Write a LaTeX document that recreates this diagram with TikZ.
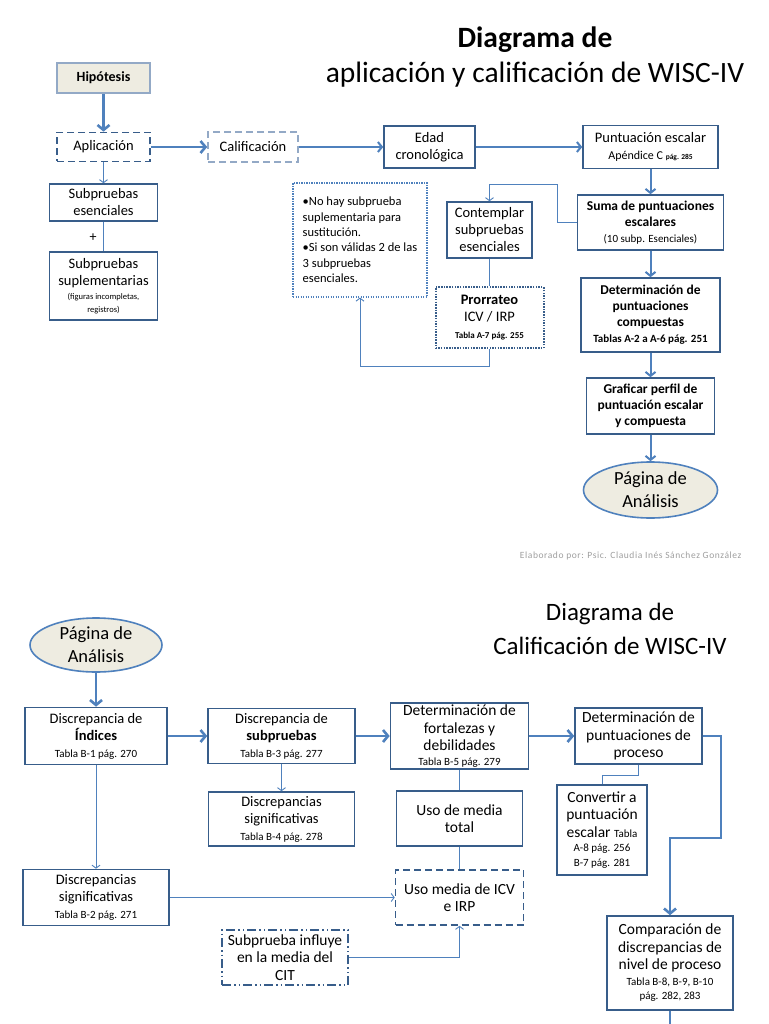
\documentclass[tikz,border=0pt]{standalone}
\usepackage{fontspec}
\setmainfont{Carlito}
\usetikzlibrary{arrows.meta,shapes.geometric}
\definecolor{boxblue}{HTML}{385D8A}
\definecolor{linkblue}{HTML}{4F81BD}
\definecolor{paleblue}{HTML}{93A9C6}
\definecolor{beige}{HTML}{EEECE1}
\newcommand{\tabsize}{\fontsize{11}{13}\selectfont}
\newcommand{\tinysize}{\fontsize{8.5}{10}\selectfont}

\begin{document}
\begin{tikzpicture}[x=1pt,y=-1pt,
  box/.style={draw=boxblue,line width=1.6pt,fill=white,align=center,inner sep=1pt,font=\fontsize{14.5}{17}\selectfont},
  bigbox/.style={box,font=\fontsize{15.5}{17.5}\selectfont},
  boldbox/.style={box,font=\bfseries\fontsize{13.5}{16}\selectfont},
  dashbox/.style={box,dash pattern=on 7pt off 4pt},
  dotbox/.style={box,draw=linkblue,line width=1.2pt,dash pattern=on 1.2pt off 1.3pt},
  oval/.style={ellipse,draw=linkblue,line width=1.6pt,fill=beige,align=center,inner sep=0pt,font=\fontsize{18.5}{23}\selectfont},
  bigflow/.style={draw=linkblue,line width=2.6pt,-{Straight Barb[length=5pt,width=12pt]}},
  flow/.style={draw=linkblue,line width=2pt,-{Straight Barb[length=4pt,width=10pt]}},
  thinflow/.style={draw=linkblue,line width=0.9pt,-{Straight Barb[length=3pt,width=8pt]}},
  link/.style={draw=linkblue,line width=0.9pt}]
\fill[white] (0,0) rectangle (768,1024);
\useasboundingbox (0,0) rectangle (768,1024);

% Titles
\node[font=\bfseries\fontsize{29.5}{34}\selectfont] (title1) at (535,40) {Diagrama de};
\node[font=\fontsize{29.5}{34}\selectfont] (title1b) at (535,75) {aplicación y calificación de WISC-IV};
\node[font=\fontsize{25}{30}\selectfont] (title2) at (610,614) {Diagrama de};
\node[font=\fontsize{25}{30}\selectfont] (title2b) at (610,646) {Calificación de WISC-IV};

% Application column
\node[box,fill=beige,draw=paleblue,line width=2.2pt,font=\bfseries\fontsize{14}{16}\selectfont,minimum width=93pt,minimum height=30pt] (hip) at (103.5,78) {Hipótesis};
\node[dashbox,minimum width=93pt,minimum height=29pt] (apl) at (103.5,147) {Aplicación};
\node[box,minimum width=108pt,minimum height=37pt] (esen) at (103.5,202.5) {Subpruebas\\esenciales};
\node[font=\fontsize{14}{16}\selectfont] (plus) at (93,238) {+};
\node[box,minimum width=108pt,minimum height=68pt] (supl) at (103.5,286) {Subpruebas\\suplementarias\\[-3pt]{\tinysize(figuras incompletas,}\\[-4pt]{\tinysize registros)}};

% Scoring row
\node[dashbox,draw=paleblue,minimum width=90pt,minimum height=30pt] (cal) at (253,147) {Calificación};
\node[box,minimum width=91pt,minimum height=42pt] (edad) at (429.5,147) {Edad\\cronológica};
\node[box,minimum width=135pt,minimum height=43pt] (pesc) at (650.5,147) {Puntuación escalar\\{\fontsize{12}{14}\selectfont Apéndice C \fontsize{7.5}{8}\selectfont\bfseries pág. 285}};

% Scoring column
\node[boldbox,minimum width=146pt,minimum height=55pt] (suma) at (650.5,222.5) {Suma de puntuaciones\\escalares\\{\mdseries\fontsize{11}{13}\selectfont(10 subp. Esenciales)}};
\node[boldbox,minimum width=139pt,minimum height=74pt] (comp) at (650.5,315) {Determinación de\\puntuaciones\\compuestas\\{\fontsize{11}{13}\selectfont Tablas A-2 a A-6 pág. 251}};
\node[boldbox,minimum width=128pt,minimum height=56pt] (graf) at (650.5,406) {Graficar perfil  de\\puntuación escalar\\y compuesta};
\node[oval,minimum width=134pt,minimum height=56pt] (pag1) at (650.5,490) {Página de\\Análisis};
\node[anchor=east,text=gray!75,font=\fontsize{9.5}{11}\selectfont\addfontfeature{LetterSpace=6}] (credit) at (745,556) {Elaborado por: Psic. Claudia Inés Sánchez González};

% Proration loop
\node[box,minimum width=85pt,minimum height=56pt] (cont) at (489.5,230) {Contemplar\\subpruebas\\esenciales};
\node[box,line width=2pt,dash pattern=on 1.5pt off 1.2pt,font=\fontsize{14.5}{17}\selectfont,minimum width=108pt,minimum height=61pt] (pror) at (489.5,317.5) {{\bfseries Prorrateo}\\ICV / IRP\\{\bfseries\fontsize{9}{10}\selectfont Tabla A-7 pág. 255}};
\node[dotbox,align=left,font=\fontsize{12.5}{15.4}\selectfont,minimum width=134pt,minimum height=114pt] (nota) at (360,240) {•No hay subprueba\\suplementaria para\\sustitución.\\•Si son válidas 2 de las\\3 subpruebas\\esenciales.};

% Top connectors
\draw[bigflow] (hip) -- (apl);
\draw[bigflow] (apl) -- (cal);
\draw[flow] (cal) -- (edad);
\draw[flow] (edad) -- (pesc);
\draw[flow] (pesc) -- (suma);
\draw[flow] (suma) -- (comp);
\draw[flow] (comp) -- (graf);
\draw[flow] (graf) -- (pag1);
\draw[thinflow] (apl) -- (esen);
\draw[link] (esen) -- (supl);
\coordinate (sumabend) at (557,184);
\draw[thinflow] (suma.west) -| (sumabend) -| (cont.north);
\draw[link] (cont) -- (pror);
\coordinate (prorbend) at (360,366);
\draw[thinflow] (pror.south) |- (prorbend) -- (nota.south);

% Analysis row
\node[oval,minimum width=132pt,minimum height=54pt] (pag2) at (96,645) {Página de\\Análisis};
\node[box,minimum width=142pt,minimum height=57pt] (dind) at (96,736) {Discrepancia de\\{\bfseries Índices}\\{\tabsize Tabla B-1 pág. 270}};
\node[box,minimum width=147pt,minimum height=55pt] (dsub) at (281.5,736) {Discrepancia de\\{\bfseries subpruebas}\\{\tabsize Tabla B-3 pág. 277}};
\node[bigbox,minimum width=138pt,minimum height=66pt] (dfor) at (459.5,736) {Determinación de\\fortalezas y\\debilidades\\[-3pt]{\tabsize Tabla B-5  pág. 279}};
\node[bigbox,minimum width=127pt,minimum height=56pt] (dproc) at (638.5,736) {Determinación de\\puntuaciones de\\proceso};

% Analysis details
\node[bigbox,minimum width=90pt,minimum height=90pt] (conv) at (602,830) {Convertir a\\puntuación\\escalar {\tabsize Tabla}\\[-3pt]{\tabsize A-8 pág. 256}\\[-3pt]{\tabsize B-7 pág. 281}};
\node[box,minimum width=146pt,minimum height=54pt] (dsig2) at (281.5,819) {Discrepancias\\significativas\\{\tabsize Tabla B-4 pág. 278}};
\node[bigbox,minimum width=126pt,minimum height=55pt] (umt) at (459.5,818.5) {Uso de media\\total};
\node[dashbox,font=\fontsize{15.5}{17.5}\selectfont,minimum width=128pt,minimum height=55pt] (umicv) at (459.5,897.5) {Uso media de ICV\\e IRP};
\node[box,minimum width=146pt,minimum height=56pt] (dsig1) at (96,897.5) {Discrepancias\\significativas\\{\tabsize Tabla B-2 pág. 271}};
\node[box,font=\fontsize{15.5}{17.5}\selectfont,line width=2pt,dash pattern=on 9pt off 3pt on 1.5pt off 3pt on 1.5pt off 3pt,minimum width=126pt,minimum height=55pt] (subinf) at (285,957.5) {Subprueba influye\\en la media del\\CIT};
\node[bigbox,minimum width=126pt,minimum height=94pt] (compar) at (670,963) {Comparación de\\discrepancias de\\nivel de proceso\\[-2pt]{\tabsize Tabla B-8, B-9, B-10}\\[-3pt]{\tabsize pág. 282, 283}};

% Bottom connectors
\draw[bigflow] (pag2) -- (dind);
\draw[bigflow] (dind) -- (dsub);
\draw[bigflow] (dsub) -- (dfor);
\draw[bigflow] (dfor) -- (dproc);
\coordinate (procbend) at (721,838);
\draw[bigflow] (dproc.east) -| (procbend) -| (compar.north);
\coordinate (convbend) at (602,775);
\draw[link] (dproc.south) |- (convbend) -- (conv.north);
\draw[thinflow] (dind) -- (dsig1);
\draw[thinflow] (dsub) -- (dsig2);
\draw[link] (dfor) -- (umt);
\draw[link] (umt) -- (umicv);
\draw[thinflow] (dsig1) -- (umicv);
\draw[thinflow] (subinf.east) -| (umicv.south);
\coordinate (pageend) at (670,1024);
\draw[link,line width=1.5pt] (compar) -- (pageend);

\end{tikzpicture}
\end{document}
